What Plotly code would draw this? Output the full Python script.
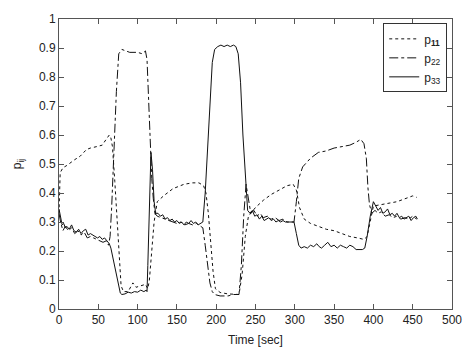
import plotly.graph_objects as go

# ---- data ----
t11 = [0, 1.5, 5, 10, 20, 27, 35, 40, 48, 55, 60, 64, 66, 68, 71, 74, 77, 79, 82, 88, 94, 98, 104, 110,
       113, 115, 118, 121, 125, 133, 145, 159, 170, 178, 184, 187, 190, 193, 196, 199, 205, 215, 222,
       229, 233, 237, 241, 250, 260, 270, 280, 290, 298, 302, 306, 312, 320, 330, 340, 350, 360, 370,
       380, 388, 392, 396, 400, 410, 420, 430, 440, 450, 455]
p11 = [0.33, 0.47, 0.487, 0.495, 0.515, 0.527, 0.55, 0.555, 0.56, 0.565, 0.585, 0.60, 0.59, 0.56,
       0.44, 0.30, 0.16, 0.08, 0.06, 0.06, 0.09, 0.075, 0.08, 0.085, 0.07, 0.10, 0.20, 0.30, 0.37,
       0.39, 0.415, 0.43, 0.435, 0.435, 0.425, 0.40, 0.33, 0.22, 0.13, 0.07, 0.057, 0.052, 0.05,
       0.05, 0.12, 0.25, 0.32, 0.35, 0.375, 0.395, 0.41, 0.425, 0.43, 0.41, 0.35, 0.31, 0.295,
       0.285, 0.275, 0.27, 0.26, 0.25, 0.245, 0.24, 0.25, 0.30, 0.355, 0.36, 0.365, 0.37, 0.38,
       0.39, 0.385]

t22 = [0, 2, 5, 8, 12, 16, 20, 24, 28, 32, 36, 40, 44, 48, 52, 56, 60, 63, 65, 67, 70, 73, 76, 80,
       90, 100, 106, 110, 112, 114, 116, 118, 120, 122, 125, 130, 135, 140, 145, 150, 155, 160, 165,
       170, 175, 180, 183, 186, 189, 192, 195, 198, 205, 215, 222, 229, 232, 235, 238, 241, 244, 248,
       252, 256, 260, 265, 270, 275, 280, 285, 290, 295, 299, 302, 305, 310, 320, 330, 340, 350, 360,
       370, 378, 384, 388, 391, 393, 395, 398, 402, 406, 410, 415, 420, 425, 430, 435, 440, 445, 450,
       455]
p22 = [0.33, 0.30, 0.27, 0.285, 0.27, 0.28, 0.26, 0.27, 0.255, 0.265, 0.245, 0.25, 0.245, 0.24,
       0.235, 0.23, 0.235, 0.22, 0.25, 0.35, 0.55, 0.75, 0.88, 0.895, 0.885, 0.885, 0.88, 0.89,
       0.86, 0.70, 0.55, 0.45, 0.38, 0.33, 0.32, 0.315, 0.31, 0.305, 0.30, 0.295, 0.30, 0.29,
       0.295, 0.29, 0.295, 0.285, 0.28, 0.22, 0.15, 0.09, 0.06, 0.05, 0.045, 0.045, 0.05, 0.05,
       0.15, 0.32, 0.43, 0.38, 0.33, 0.34, 0.32, 0.33, 0.315, 0.32, 0.31, 0.315, 0.305, 0.31, 0.30,
       0.30, 0.30, 0.37, 0.45, 0.49, 0.52, 0.54, 0.545, 0.555, 0.56, 0.565, 0.575, 0.585, 0.57,
       0.52, 0.42, 0.36, 0.33, 0.34, 0.33, 0.335, 0.32, 0.325, 0.315, 0.32, 0.31, 0.315, 0.31,
       0.32, 0.31]

t33 = [0, 2, 4, 6, 8, 10, 13, 16, 19, 22, 25, 28, 31, 34, 37, 40, 43, 46, 49, 52, 55, 58, 61, 64,
       66, 69, 72, 75, 78, 80, 84, 88, 92, 96, 100, 104, 108, 111, 112, 113, 115, 117, 119, 121, 123,
       126, 129, 132, 135, 138, 141, 144, 147, 150, 153, 156, 159, 162, 165, 168, 171, 174, 177, 180,
       183, 186, 189, 192, 195, 198, 202, 206, 210, 214, 218, 222, 225, 228, 231, 234, 237, 240, 243,
       246, 249, 252, 255, 258, 261, 264, 267, 270, 273, 276, 279, 282, 285, 288, 291, 295, 299, 302,
       305, 308, 312, 316, 320, 324, 328, 331, 334, 338, 342, 346, 350, 354, 358, 362, 366, 370, 374,
       378, 382, 386, 389, 392, 396, 400, 403, 406, 409, 412, 415, 418, 421, 424, 427, 430, 433, 436,
       439, 442, 445, 448, 451, 454, 456]
p33 = [0.345, 0.31, 0.29, 0.295, 0.28, 0.285, 0.275, 0.29, 0.27, 0.265, 0.275, 0.26, 0.27, 0.275,
       0.255, 0.26, 0.255, 0.25, 0.245, 0.25, 0.24, 0.245, 0.235, 0.225, 0.21, 0.17, 0.13, 0.09,
       0.055, 0.05, 0.052, 0.058, 0.055, 0.06, 0.058, 0.065, 0.06, 0.065, 0.06, 0.15, 0.35, 0.54,
       0.48, 0.37, 0.33, 0.33, 0.32, 0.325, 0.31, 0.315, 0.305, 0.31, 0.30, 0.305, 0.295, 0.30,
       0.29, 0.30, 0.295, 0.305, 0.295, 0.30, 0.29, 0.295, 0.30, 0.40, 0.55, 0.72, 0.85, 0.895,
       0.905, 0.91, 0.905, 0.91, 0.905, 0.91, 0.905, 0.88, 0.78, 0.60, 0.45, 0.34, 0.33, 0.34,
       0.32, 0.325, 0.31, 0.32, 0.305, 0.31, 0.315, 0.305, 0.31, 0.30, 0.305, 0.30, 0.305, 0.30,
       0.30, 0.30, 0.30, 0.26, 0.22, 0.21, 0.215, 0.21, 0.22, 0.215, 0.225, 0.215, 0.21, 0.22,
       0.23, 0.215, 0.22, 0.21, 0.22, 0.215, 0.21, 0.22, 0.215, 0.205, 0.205, 0.205, 0.21, 0.25,
       0.32, 0.37, 0.355, 0.34, 0.35, 0.33, 0.335, 0.345, 0.325, 0.33, 0.32, 0.33, 0.315, 0.32,
       0.31, 0.315, 0.32, 0.305, 0.315, 0.32, 0.31]

x_ticks = [0, 50, 100, 150, 200, 250, 300, 350, 400, 450, 500]
y_ticks = [0, 0.1, 0.2, 0.3, 0.4, 0.5, 0.6, 0.7, 0.8, 0.9, 1]
y_tick_text = ["0", "0.1", "0.2", "0.3", "0.4", "0.5", "0.6", "0.7", "0.8", "0.9", "1"]

FONT = "Liberation Sans, Arial, sans-serif"

fig = go.Figure()
fig.add_trace(go.Scatter(x=t11, y=p11, mode="lines", name="p<sub><b>11</b></sub>",
                         line=dict(color="#111", width=1, dash="dot")))
fig.add_trace(go.Scatter(x=t22, y=p22, mode="lines", name="p<sub>22</sub>",
                         line=dict(color="#111", width=1, dash="dashdot")))
fig.add_trace(go.Scatter(x=t33, y=p33, mode="lines", name="p<sub>33</sub>",
                         line=dict(color="#111", width=1, dash="solid")))

axis_common = dict(showline=True, linecolor="#555", linewidth=1, mirror="ticks",
                   ticks="inside", ticklen=5, tickcolor="#555", showgrid=False, zeroline=False,
                   tickfont=dict(family=FONT, size=12, color="#222"))

fig.update_layout(
    width=474, height=357,
    margin=dict(l=59, r=20, t=19, b=40),
    plot_bgcolor="white", paper_bgcolor="white",
    font=dict(family=FONT, size=12, color="#222"),
    xaxis=dict(range=[0, 500], tickvals=x_ticks,
               title=dict(text="Time [sec]", standoff=9, font=dict(size=12)), **axis_common),
    yaxis=dict(range=[0, 1], tickvals=y_ticks, ticktext=y_tick_text,
               title=dict(text="p<sub>ij</sub>", standoff=14, font=dict(size=12)), **axis_common),
    legend=dict(x=0.825, y=0.985, xanchor="left", yanchor="top",
                bgcolor="white", bordercolor="#333", borderwidth=1,
                font=dict(size=12), tracegroupgap=0, itemwidth=30),
    showlegend=True,
)

fig.write_html("out.html", config={"displayModeBar": False},
               post_script="document.body.style.margin='0';document.body.style.overflow='hidden';")
